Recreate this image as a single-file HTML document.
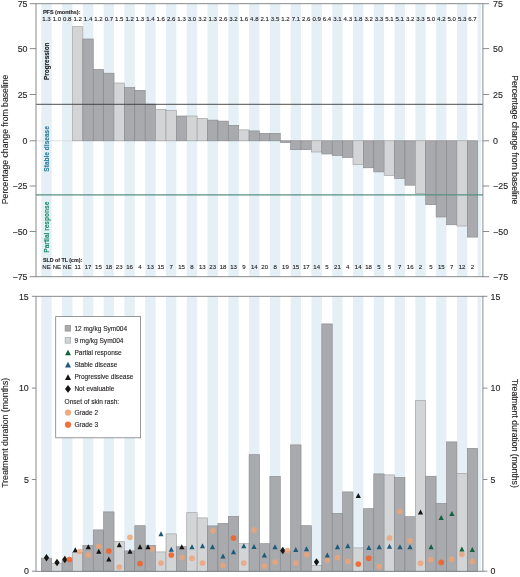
<!DOCTYPE html>
<html lang="en"><head><meta charset="utf-8"><title>Waterfall plot and treatment duration</title>
<style>html,body{margin:0;padding:0;background:#fff}svg{display:block}text{font-family:"Liberation Sans",Arial,Helvetica,sans-serif;fill:#231f20;stroke:#231f20;stroke-width:0.12px}</style></head><body>
<svg width="520" height="577" viewBox="0 0 520 577">
<rect width="520" height="577" fill="#fff"/>
<rect x="41.30" y="3.7" width="10.39" height="273.00" fill="#e4f0f5"/>
<rect x="62.08" y="3.7" width="10.39" height="273.00" fill="#e4f0f5"/>
<rect x="82.86" y="3.7" width="10.39" height="273.00" fill="#e4f0f5"/>
<rect x="103.64" y="3.7" width="10.39" height="273.00" fill="#e4f0f5"/>
<rect x="124.42" y="3.7" width="10.39" height="273.00" fill="#e4f0f5"/>
<rect x="145.20" y="3.7" width="10.39" height="273.00" fill="#e4f0f5"/>
<rect x="165.98" y="3.7" width="10.39" height="273.00" fill="#e4f0f5"/>
<rect x="186.76" y="3.7" width="10.39" height="273.00" fill="#e4f0f5"/>
<rect x="207.54" y="3.7" width="10.39" height="273.00" fill="#e4f0f5"/>
<rect x="228.32" y="3.7" width="10.39" height="273.00" fill="#e4f0f5"/>
<rect x="249.10" y="3.7" width="10.39" height="273.00" fill="#e4f0f5"/>
<rect x="269.88" y="3.7" width="10.39" height="273.00" fill="#e4f0f5"/>
<rect x="290.66" y="3.7" width="10.39" height="273.00" fill="#e4f0f5"/>
<rect x="311.44" y="3.7" width="10.39" height="273.00" fill="#e4f0f5"/>
<rect x="332.22" y="3.7" width="10.39" height="273.00" fill="#e4f0f5"/>
<rect x="353.00" y="3.7" width="10.39" height="273.00" fill="#e4f0f5"/>
<rect x="373.78" y="3.7" width="10.39" height="273.00" fill="#e4f0f5"/>
<rect x="394.56" y="3.7" width="10.39" height="273.00" fill="#e4f0f5"/>
<rect x="415.34" y="3.7" width="10.39" height="273.00" fill="#e4f0f5"/>
<rect x="436.12" y="3.7" width="10.39" height="273.00" fill="#e4f0f5"/>
<rect x="456.90" y="3.7" width="10.39" height="273.00" fill="#e4f0f5"/>
<rect x="477.68" y="3.7" width="3.22" height="273.00" fill="#e4f0f5"/>
<rect x="41.30" y="296.3" width="10.39" height="275.00" fill="#e4f0f5"/>
<rect x="62.08" y="296.3" width="10.39" height="275.00" fill="#e4f0f5"/>
<rect x="82.86" y="296.3" width="10.39" height="275.00" fill="#e4f0f5"/>
<rect x="103.64" y="296.3" width="10.39" height="275.00" fill="#e4f0f5"/>
<rect x="124.42" y="296.3" width="10.39" height="275.00" fill="#e4f0f5"/>
<rect x="145.20" y="296.3" width="10.39" height="275.00" fill="#e4f0f5"/>
<rect x="165.98" y="296.3" width="10.39" height="275.00" fill="#e4f0f5"/>
<rect x="186.76" y="296.3" width="10.39" height="275.00" fill="#e4f0f5"/>
<rect x="207.54" y="296.3" width="10.39" height="275.00" fill="#e4f0f5"/>
<rect x="228.32" y="296.3" width="10.39" height="275.00" fill="#e4f0f5"/>
<rect x="249.10" y="296.3" width="10.39" height="275.00" fill="#e4f0f5"/>
<rect x="269.88" y="296.3" width="10.39" height="275.00" fill="#e4f0f5"/>
<rect x="290.66" y="296.3" width="10.39" height="275.00" fill="#e4f0f5"/>
<rect x="311.44" y="296.3" width="10.39" height="275.00" fill="#e4f0f5"/>
<rect x="332.22" y="296.3" width="10.39" height="275.00" fill="#e4f0f5"/>
<rect x="353.00" y="296.3" width="10.39" height="275.00" fill="#e4f0f5"/>
<rect x="373.78" y="296.3" width="10.39" height="275.00" fill="#e4f0f5"/>
<rect x="394.56" y="296.3" width="10.39" height="275.00" fill="#e4f0f5"/>
<rect x="415.34" y="296.3" width="10.39" height="275.00" fill="#e4f0f5"/>
<rect x="436.12" y="296.3" width="10.39" height="275.00" fill="#e4f0f5"/>
<rect x="456.90" y="296.3" width="10.39" height="275.00" fill="#e4f0f5"/>
<rect x="477.68" y="296.3" width="3.22" height="275.00" fill="#e4f0f5"/>
<line x1="36.0" x2="482.9" y1="140.8" y2="140.8" stroke="#d6d6d6" stroke-width="0.7"/>
<rect x="72.47" y="26.70" width="10.39" height="114.10" fill="#d3d4d6" stroke="#9a9b9e" stroke-width="0.6"/>
<rect x="82.86" y="39.00" width="10.39" height="101.80" fill="#a9aaad" stroke="#85868a" stroke-width="0.6"/>
<rect x="93.25" y="69.40" width="10.39" height="71.40" fill="#a9aaad" stroke="#85868a" stroke-width="0.6"/>
<rect x="103.64" y="73.20" width="10.39" height="67.60" fill="#a9aaad" stroke="#85868a" stroke-width="0.6"/>
<rect x="114.03" y="83.00" width="10.39" height="57.80" fill="#d3d4d6" stroke="#9a9b9e" stroke-width="0.6"/>
<rect x="124.42" y="87.50" width="10.39" height="53.30" fill="#a9aaad" stroke="#85868a" stroke-width="0.6"/>
<rect x="134.81" y="90.30" width="10.39" height="50.50" fill="#a9aaad" stroke="#85868a" stroke-width="0.6"/>
<rect x="145.20" y="104.10" width="10.39" height="36.70" fill="#a9aaad" stroke="#85868a" stroke-width="0.6"/>
<rect x="155.59" y="109.40" width="10.39" height="31.40" fill="#d3d4d6" stroke="#9a9b9e" stroke-width="0.6"/>
<rect x="165.98" y="110.60" width="10.39" height="30.20" fill="#d3d4d6" stroke="#9a9b9e" stroke-width="0.6"/>
<rect x="176.37" y="116.00" width="10.39" height="24.80" fill="#a9aaad" stroke="#85868a" stroke-width="0.6"/>
<rect x="186.76" y="116.00" width="10.39" height="24.80" fill="#d3d4d6" stroke="#9a9b9e" stroke-width="0.6"/>
<rect x="197.15" y="118.30" width="10.39" height="22.50" fill="#d3d4d6" stroke="#9a9b9e" stroke-width="0.6"/>
<rect x="207.54" y="120.10" width="10.39" height="20.70" fill="#a9aaad" stroke="#85868a" stroke-width="0.6"/>
<rect x="217.93" y="121.10" width="10.39" height="19.70" fill="#a9aaad" stroke="#85868a" stroke-width="0.6"/>
<rect x="228.32" y="125.40" width="10.39" height="15.40" fill="#a9aaad" stroke="#85868a" stroke-width="0.6"/>
<rect x="238.71" y="129.85" width="10.39" height="10.95" fill="#d3d4d6" stroke="#9a9b9e" stroke-width="0.6"/>
<rect x="249.10" y="130.90" width="10.39" height="9.90" fill="#a9aaad" stroke="#85868a" stroke-width="0.6"/>
<rect x="259.49" y="133.30" width="10.39" height="7.50" fill="#a9aaad" stroke="#85868a" stroke-width="0.6"/>
<rect x="269.88" y="133.30" width="10.39" height="7.50" fill="#a9aaad" stroke="#85868a" stroke-width="0.6"/>
<rect x="280.27" y="140.80" width="10.39" height="1.80" fill="#a9aaad" stroke="#85868a" stroke-width="0.6"/>
<rect x="290.66" y="140.80" width="10.39" height="8.90" fill="#a9aaad" stroke="#85868a" stroke-width="0.6"/>
<rect x="301.05" y="140.80" width="10.39" height="8.90" fill="#a9aaad" stroke="#85868a" stroke-width="0.6"/>
<rect x="311.44" y="140.80" width="10.39" height="11.20" fill="#d3d4d6" stroke="#9a9b9e" stroke-width="0.6"/>
<rect x="321.83" y="140.80" width="10.39" height="13.20" fill="#a9aaad" stroke="#85868a" stroke-width="0.6"/>
<rect x="332.22" y="140.80" width="10.39" height="14.70" fill="#a9aaad" stroke="#85868a" stroke-width="0.6"/>
<rect x="342.61" y="140.80" width="10.39" height="16.70" fill="#a9aaad" stroke="#85868a" stroke-width="0.6"/>
<rect x="353.00" y="140.80" width="10.39" height="23.60" fill="#d3d4d6" stroke="#9a9b9e" stroke-width="0.6"/>
<rect x="363.39" y="140.80" width="10.39" height="27.00" fill="#a9aaad" stroke="#85868a" stroke-width="0.6"/>
<rect x="373.78" y="140.80" width="10.39" height="31.10" fill="#a9aaad" stroke="#85868a" stroke-width="0.6"/>
<rect x="384.17" y="140.80" width="10.39" height="34.60" fill="#d3d4d6" stroke="#9a9b9e" stroke-width="0.6"/>
<rect x="394.56" y="140.80" width="10.39" height="37.60" fill="#a9aaad" stroke="#85868a" stroke-width="0.6"/>
<rect x="404.95" y="140.80" width="10.39" height="44.40" fill="#a9aaad" stroke="#85868a" stroke-width="0.6"/>
<rect x="415.34" y="140.80" width="10.39" height="52.50" fill="#d3d4d6" stroke="#9a9b9e" stroke-width="0.6"/>
<rect x="425.73" y="140.80" width="10.39" height="63.90" fill="#a9aaad" stroke="#85868a" stroke-width="0.6"/>
<rect x="436.12" y="140.80" width="10.39" height="76.20" fill="#a9aaad" stroke="#85868a" stroke-width="0.6"/>
<rect x="446.51" y="140.80" width="10.39" height="84.00" fill="#a9aaad" stroke="#85868a" stroke-width="0.6"/>
<rect x="456.90" y="140.80" width="10.39" height="85.20" fill="#d3d4d6" stroke="#9a9b9e" stroke-width="0.6"/>
<rect x="467.29" y="140.80" width="10.39" height="96.30" fill="#a9aaad" stroke="#85868a" stroke-width="0.6"/>
<line x1="36.0" x2="482.9" y1="104.3" y2="104.3" stroke="#3a3a3a" stroke-width="0.9"/>
<line x1="36.0" x2="482.9" y1="194.9" y2="194.9" stroke="#57907f" stroke-width="1.1"/>
<rect x="41.30" y="558.20" width="10.39" height="13.10" fill="#a9aaad" stroke="#85868a" stroke-width="0.6"/>
<rect x="51.69" y="563.40" width="10.39" height="7.90" fill="#d3d4d6" stroke="#9a9b9e" stroke-width="0.6"/>
<rect x="62.08" y="560.40" width="10.39" height="10.90" fill="#a9aaad" stroke="#85868a" stroke-width="0.6"/>
<rect x="72.47" y="552.40" width="10.39" height="18.90" fill="#d3d4d6" stroke="#9a9b9e" stroke-width="0.6"/>
<rect x="82.86" y="545.40" width="10.39" height="25.90" fill="#a9aaad" stroke="#85868a" stroke-width="0.6"/>
<rect x="93.25" y="529.90" width="10.39" height="41.40" fill="#a9aaad" stroke="#85868a" stroke-width="0.6"/>
<rect x="103.64" y="511.90" width="10.39" height="59.40" fill="#a9aaad" stroke="#85868a" stroke-width="0.6"/>
<rect x="114.03" y="541.70" width="10.39" height="29.60" fill="#d3d4d6" stroke="#9a9b9e" stroke-width="0.6"/>
<rect x="124.42" y="550.90" width="10.39" height="20.40" fill="#a9aaad" stroke="#85868a" stroke-width="0.6"/>
<rect x="134.81" y="525.70" width="10.39" height="45.60" fill="#a9aaad" stroke="#85868a" stroke-width="0.6"/>
<rect x="145.20" y="545.40" width="10.39" height="25.90" fill="#a9aaad" stroke="#85868a" stroke-width="0.6"/>
<rect x="155.59" y="551.90" width="10.39" height="19.40" fill="#d3d4d6" stroke="#9a9b9e" stroke-width="0.6"/>
<rect x="165.98" y="533.90" width="10.39" height="37.40" fill="#d3d4d6" stroke="#9a9b9e" stroke-width="0.6"/>
<rect x="176.37" y="546.70" width="10.39" height="24.60" fill="#a9aaad" stroke="#85868a" stroke-width="0.6"/>
<rect x="186.76" y="512.70" width="10.39" height="58.60" fill="#d3d4d6" stroke="#9a9b9e" stroke-width="0.6"/>
<rect x="197.15" y="517.90" width="10.39" height="53.40" fill="#d3d4d6" stroke="#9a9b9e" stroke-width="0.6"/>
<rect x="207.54" y="525.90" width="10.39" height="45.40" fill="#a9aaad" stroke="#85868a" stroke-width="0.6"/>
<rect x="217.93" y="523.40" width="10.39" height="47.90" fill="#a9aaad" stroke="#85868a" stroke-width="0.6"/>
<rect x="228.32" y="516.40" width="10.39" height="54.90" fill="#a9aaad" stroke="#85868a" stroke-width="0.6"/>
<rect x="238.71" y="543.70" width="10.39" height="27.60" fill="#d3d4d6" stroke="#9a9b9e" stroke-width="0.6"/>
<rect x="249.10" y="454.70" width="10.39" height="116.60" fill="#a9aaad" stroke="#85868a" stroke-width="0.6"/>
<rect x="259.49" y="543.70" width="10.39" height="27.60" fill="#a9aaad" stroke="#85868a" stroke-width="0.6"/>
<rect x="269.88" y="476.40" width="10.39" height="94.90" fill="#a9aaad" stroke="#85868a" stroke-width="0.6"/>
<rect x="280.27" y="551.20" width="10.39" height="20.10" fill="#a9aaad" stroke="#85868a" stroke-width="0.6"/>
<rect x="290.66" y="444.90" width="10.39" height="126.40" fill="#a9aaad" stroke="#85868a" stroke-width="0.6"/>
<rect x="301.05" y="525.70" width="10.39" height="45.60" fill="#a9aaad" stroke="#85868a" stroke-width="0.6"/>
<rect x="311.44" y="565.40" width="10.39" height="5.90" fill="#d3d4d6" stroke="#9a9b9e" stroke-width="0.6"/>
<rect x="321.83" y="323.90" width="10.39" height="247.40" fill="#a9aaad" stroke="#85868a" stroke-width="0.6"/>
<rect x="332.22" y="513.40" width="10.39" height="57.90" fill="#a9aaad" stroke="#85868a" stroke-width="0.6"/>
<rect x="342.61" y="491.90" width="10.39" height="79.40" fill="#a9aaad" stroke="#85868a" stroke-width="0.6"/>
<rect x="353.00" y="547.90" width="10.39" height="23.40" fill="#d3d4d6" stroke="#9a9b9e" stroke-width="0.6"/>
<rect x="363.39" y="508.70" width="10.39" height="62.60" fill="#a9aaad" stroke="#85868a" stroke-width="0.6"/>
<rect x="373.78" y="473.90" width="10.39" height="97.40" fill="#a9aaad" stroke="#85868a" stroke-width="0.6"/>
<rect x="384.17" y="474.90" width="10.39" height="96.40" fill="#d3d4d6" stroke="#9a9b9e" stroke-width="0.6"/>
<rect x="394.56" y="477.40" width="10.39" height="93.90" fill="#a9aaad" stroke="#85868a" stroke-width="0.6"/>
<rect x="404.95" y="516.70" width="10.39" height="54.60" fill="#a9aaad" stroke="#85868a" stroke-width="0.6"/>
<rect x="415.34" y="400.70" width="10.39" height="170.60" fill="#d3d4d6" stroke="#9a9b9e" stroke-width="0.6"/>
<rect x="425.73" y="476.20" width="10.39" height="95.10" fill="#a9aaad" stroke="#85868a" stroke-width="0.6"/>
<rect x="436.12" y="503.40" width="10.39" height="67.90" fill="#a9aaad" stroke="#85868a" stroke-width="0.6"/>
<rect x="446.51" y="441.90" width="10.39" height="129.40" fill="#a9aaad" stroke="#85868a" stroke-width="0.6"/>
<rect x="456.90" y="473.40" width="10.39" height="97.90" fill="#d3d4d6" stroke="#9a9b9e" stroke-width="0.6"/>
<rect x="467.29" y="448.40" width="10.39" height="122.90" fill="#a9aaad" stroke="#85868a" stroke-width="0.6"/>
<polygon points="43.85,557.80 46.50,554.05 49.15,557.80 46.50,561.55" fill="#151515"/>
<polygon points="54.35,562.50 57.00,558.75 59.65,562.50 57.00,566.25" fill="#151515"/>
<polygon points="62.15,559.50 64.80,555.75 67.45,559.50 64.80,563.25" fill="#151515"/>
<circle cx="69.50" cy="559.50" r="2.85" fill="#f0652d" fill-opacity="0.92"/>
<polygon points="72.70,552.30 77.90,552.30 75.30,547.30" fill="#151515"/>
<circle cx="79.80" cy="551.50" r="2.85" fill="#eda477" fill-opacity="0.82"/>
<circle cx="88.30" cy="555.00" r="2.85" fill="#eda477" fill-opacity="0.82"/>
<polygon points="85.70,549.30 90.90,549.30 88.30,544.30" fill="#151515"/>
<circle cx="98.80" cy="546.50" r="2.85" fill="#eda477" fill-opacity="0.82"/>
<polygon points="96.20,553.80 101.40,553.80 98.80,548.80" fill="#151515"/>
<circle cx="108.80" cy="551.00" r="2.85" fill="#f0652d" fill-opacity="0.92"/>
<polygon points="106.20,561.50 111.40,561.50 108.80,556.50" fill="#151515"/>
<circle cx="119.30" cy="567.00" r="2.85" fill="#eda477" fill-opacity="0.82"/>
<polygon points="116.70,547.30 121.90,547.30 119.30,542.30" fill="#151515"/>
<circle cx="130.00" cy="537.30" r="2.85" fill="#eda477" fill-opacity="0.82"/>
<polygon points="127.40,553.80 132.60,553.80 130.00,548.80" fill="#151515"/>
<circle cx="140.00" cy="563.50" r="2.85" fill="#f0652d" fill-opacity="0.92"/>
<polygon points="137.40,549.30 142.60,549.30 140.00,544.30" fill="#151515"/>
<circle cx="152.00" cy="548.80" r="2.85" fill="#eda477" fill-opacity="0.82"/>
<polygon points="145.40,549.30 150.60,549.30 148.00,544.30" fill="#151515"/>
<circle cx="161.00" cy="563.00" r="2.85" fill="#eda477" fill-opacity="0.82"/>
<polygon points="158.40,536.30 163.60,536.30 161.00,531.30" fill="#1c5c7a"/>
<circle cx="171.30" cy="555.00" r="2.85" fill="#f0652d" fill-opacity="0.92"/>
<polygon points="168.70,551.80 173.90,551.80 171.30,546.80" fill="#1c5c7a"/>
<circle cx="181.80" cy="557.50" r="2.85" fill="#eda477" fill-opacity="0.82"/>
<polygon points="179.20,549.30 184.40,549.30 181.80,544.30" fill="#151515"/>
<circle cx="192.00" cy="558.30" r="2.85" fill="#eda477" fill-opacity="0.82"/>
<polygon points="189.40,549.30 194.60,549.30 192.00,544.30" fill="#1c5c7a"/>
<circle cx="202.50" cy="563.00" r="2.85" fill="#eda477" fill-opacity="0.82"/>
<polygon points="199.90,548.30 205.10,548.30 202.50,543.30" fill="#1c5c7a"/>
<circle cx="213.00" cy="530.80" r="2.85" fill="#eda477" fill-opacity="0.82"/>
<polygon points="209.90,549.30 215.10,549.30 212.50,544.30" fill="#1c5c7a"/>
<circle cx="223.00" cy="565.50" r="2.85" fill="#eda477" fill-opacity="0.82"/>
<polygon points="220.40,558.50 225.60,558.50 223.00,553.50" fill="#1c5c7a"/>
<circle cx="233.50" cy="538.00" r="2.85" fill="#f0652d" fill-opacity="0.92"/>
<polygon points="230.90,554.30 236.10,554.30 233.50,549.30" fill="#1c5c7a"/>
<circle cx="243.80" cy="563.00" r="2.85" fill="#eda477" fill-opacity="0.82"/>
<polygon points="241.20,548.30 246.40,548.30 243.80,543.30" fill="#1c5c7a"/>
<circle cx="254.00" cy="530.00" r="2.85" fill="#eda477" fill-opacity="0.82"/>
<polygon points="251.40,549.10 256.60,549.10 254.00,544.10" fill="#1c5c7a"/>
<circle cx="264.40" cy="566.00" r="2.85" fill="#eda477" fill-opacity="0.82"/>
<polygon points="261.80,557.50 267.00,557.50 264.40,552.50" fill="#1c5c7a"/>
<circle cx="275.00" cy="562.00" r="2.85" fill="#eda477" fill-opacity="0.82"/>
<polygon points="272.40,549.30 277.60,549.30 275.00,544.30" fill="#1c5c7a"/>
<polygon points="280.15,550.50 282.80,546.75 285.45,550.50 282.80,554.25" fill="#151515"/>
<circle cx="287.50" cy="550.50" r="2.85" fill="#eda477" fill-opacity="0.82"/>
<circle cx="295.80" cy="563.00" r="2.85" fill="#eda477" fill-opacity="0.82"/>
<polygon points="293.20,552.00 298.40,552.00 295.80,547.00" fill="#1c5c7a"/>
<circle cx="306.50" cy="554.50" r="2.85" fill="#eda477" fill-opacity="0.82"/>
<polygon points="303.90,551.30 309.10,551.30 306.50,546.30" fill="#1c5c7a"/>
<polygon points="313.85,562.00 316.50,558.25 319.15,562.00 316.50,565.75" fill="#151515"/>
<circle cx="327.30" cy="560.00" r="2.85" fill="#eda477" fill-opacity="0.82"/>
<polygon points="324.70,557.50 329.90,557.50 327.30,552.50" fill="#1c5c7a"/>
<circle cx="337.50" cy="557.50" r="2.85" fill="#eda477" fill-opacity="0.82"/>
<polygon points="334.90,549.30 340.10,549.30 337.50,544.30" fill="#1c5c7a"/>
<circle cx="347.80" cy="561.30" r="2.85" fill="#eda477" fill-opacity="0.82"/>
<polygon points="345.20,548.30 350.40,548.30 347.80,543.30" fill="#1c5c7a"/>
<circle cx="358.30" cy="564.00" r="2.85" fill="#f0652d" fill-opacity="0.92"/>
<polygon points="355.70,498.00 360.90,498.00 358.30,493.00" fill="#151515"/>
<circle cx="368.80" cy="558.30" r="2.85" fill="#f0652d" fill-opacity="0.92"/>
<polygon points="366.20,550.00 371.40,550.00 368.80,545.00" fill="#1c5c7a"/>
<circle cx="379.20" cy="566.50" r="2.85" fill="#eda477" fill-opacity="0.82"/>
<polygon points="376.60,549.30 381.80,549.30 379.20,544.30" fill="#1c5c7a"/>
<circle cx="389.50" cy="538.00" r="2.85" fill="#eda477" fill-opacity="0.82"/>
<polygon points="386.90,548.80 392.10,548.80 389.50,543.80" fill="#1c5c7a"/>
<circle cx="399.60" cy="511.30" r="2.85" fill="#eda477" fill-opacity="0.82"/>
<polygon points="397.40,549.30 402.60,549.30 400.00,544.30" fill="#1c5c7a"/>
<circle cx="410.00" cy="540.80" r="2.85" fill="#eda477" fill-opacity="0.82"/>
<polygon points="407.40,549.30 412.60,549.30 410.00,544.30" fill="#1c5c7a"/>
<circle cx="420.50" cy="563.30" r="2.85" fill="#eda477" fill-opacity="0.82"/>
<polygon points="417.90,514.50 423.10,514.50 420.50,509.50" fill="#151515"/>
<circle cx="430.60" cy="559.60" r="2.85" fill="#eda477" fill-opacity="0.82"/>
<polygon points="428.50,549.30 433.70,549.30 431.10,544.30" fill="#14603f"/>
<circle cx="441.20" cy="562.40" r="2.85" fill="#f0652d" fill-opacity="0.92"/>
<polygon points="438.60,520.10 443.80,520.10 441.20,515.10" fill="#14603f"/>
<circle cx="451.60" cy="559.20" r="2.85" fill="#eda477" fill-opacity="0.82"/>
<polygon points="449.30,516.00 454.50,516.00 451.90,511.00" fill="#14603f"/>
<circle cx="461.90" cy="554.30" r="2.85" fill="#eda477" fill-opacity="0.82"/>
<polygon points="459.30,551.40 464.50,551.40 461.90,546.40" fill="#14603f"/>
<circle cx="472.30" cy="561.60" r="2.85" fill="#eda477" fill-opacity="0.82"/>
<polygon points="469.70,552.00 474.90,552.00 472.30,547.00" fill="#14603f"/>
<rect x="36.0" y="3.7" width="446.90" height="273.00" fill="none" stroke="#7d7e80" stroke-width="0.9"/>
<rect x="36.0" y="296.3" width="446.90" height="275.00" fill="none" stroke="#7d7e80" stroke-width="0.9"/>
<line x1="29.7" x2="36.0" y1="3.70" y2="3.70" stroke="#7d7e80" stroke-width="0.9"/>
<line x1="482.9" x2="489.2" y1="3.70" y2="3.70" stroke="#7d7e80" stroke-width="0.9"/>
<text x="27.5" y="6.90" font-size="8.85" text-anchor="end">75</text>
<text x="493.1" y="6.90" font-size="8.85">75</text>
<line x1="29.7" x2="36.0" y1="48.60" y2="48.60" stroke="#7d7e80" stroke-width="0.9"/>
<line x1="482.9" x2="489.2" y1="48.60" y2="48.60" stroke="#7d7e80" stroke-width="0.9"/>
<text x="27.5" y="51.80" font-size="8.85" text-anchor="end">50</text>
<text x="493.1" y="51.80" font-size="8.85">50</text>
<line x1="29.7" x2="36.0" y1="94.50" y2="94.50" stroke="#7d7e80" stroke-width="0.9"/>
<line x1="482.9" x2="489.2" y1="94.50" y2="94.50" stroke="#7d7e80" stroke-width="0.9"/>
<text x="27.5" y="97.70" font-size="8.85" text-anchor="end">25</text>
<text x="493.1" y="97.70" font-size="8.85">25</text>
<line x1="29.7" x2="36.0" y1="140.80" y2="140.80" stroke="#7d7e80" stroke-width="0.9"/>
<line x1="482.9" x2="489.2" y1="140.80" y2="140.80" stroke="#7d7e80" stroke-width="0.9"/>
<text x="27.5" y="144.00" font-size="8.85" text-anchor="end">0</text>
<text x="493.1" y="144.00" font-size="8.85">0</text>
<line x1="29.7" x2="36.0" y1="186.00" y2="186.00" stroke="#7d7e80" stroke-width="0.9"/>
<line x1="482.9" x2="489.2" y1="186.00" y2="186.00" stroke="#7d7e80" stroke-width="0.9"/>
<text x="27.5" y="189.20" font-size="8.85" text-anchor="end">−25</text>
<text x="493.1" y="189.20" font-size="8.85">−25</text>
<line x1="29.7" x2="36.0" y1="231.50" y2="231.50" stroke="#7d7e80" stroke-width="0.9"/>
<line x1="482.9" x2="489.2" y1="231.50" y2="231.50" stroke="#7d7e80" stroke-width="0.9"/>
<text x="27.5" y="234.70" font-size="8.85" text-anchor="end">−50</text>
<text x="493.1" y="234.70" font-size="8.85">−50</text>
<line x1="29.7" x2="36.0" y1="276.70" y2="276.70" stroke="#7d7e80" stroke-width="0.9"/>
<line x1="482.9" x2="489.2" y1="276.70" y2="276.70" stroke="#7d7e80" stroke-width="0.9"/>
<text x="27.5" y="279.90" font-size="8.85" text-anchor="end">−75</text>
<text x="493.1" y="279.90" font-size="8.85">−75</text>
<line x1="31.9" x2="36.0" y1="296.30" y2="296.30" stroke="#7d7e80" stroke-width="0.9"/>
<line x1="482.9" x2="487.4" y1="296.30" y2="296.30" stroke="#7d7e80" stroke-width="0.9"/>
<text x="28.8" y="299.50" font-size="8.85" text-anchor="end">15</text>
<text x="490.6" y="299.50" font-size="8.85">15</text>
<line x1="31.9" x2="36.0" y1="388.10" y2="388.10" stroke="#7d7e80" stroke-width="0.9"/>
<line x1="482.9" x2="487.4" y1="388.10" y2="388.10" stroke="#7d7e80" stroke-width="0.9"/>
<text x="28.8" y="391.30" font-size="8.85" text-anchor="end">10</text>
<text x="490.6" y="391.30" font-size="8.85">10</text>
<line x1="31.9" x2="36.0" y1="479.50" y2="479.50" stroke="#7d7e80" stroke-width="0.9"/>
<line x1="482.9" x2="487.4" y1="479.50" y2="479.50" stroke="#7d7e80" stroke-width="0.9"/>
<text x="28.8" y="482.70" font-size="8.85" text-anchor="end">5</text>
<text x="490.6" y="482.70" font-size="8.85">5</text>
<line x1="31.9" x2="36.0" y1="571.20" y2="571.20" stroke="#7d7e80" stroke-width="0.9"/>
<line x1="482.9" x2="487.4" y1="571.20" y2="571.20" stroke="#7d7e80" stroke-width="0.9"/>
<text x="28.8" y="574.40" font-size="8.85" text-anchor="end">0</text>
<text x="490.6" y="574.40" font-size="8.85">0</text>
<text transform="translate(7.95,139.4) rotate(-90)" font-size="8.7" text-anchor="middle" textLength="129.6" lengthAdjust="spacingAndGlyphs">Percentage change from baseline</text>
<text transform="translate(512.1,139.8) rotate(90)" font-size="8.7" text-anchor="middle" textLength="129.2" lengthAdjust="spacingAndGlyphs">Percentage change from baseline</text>
<text transform="translate(7.95,432.8) rotate(-90)" font-size="8.7" text-anchor="middle" textLength="110" lengthAdjust="spacingAndGlyphs">Treatment duration (months)</text>
<text transform="translate(512.1,433.3) rotate(90)" font-size="8.7" text-anchor="middle" textLength="109" lengthAdjust="spacingAndGlyphs">Treatment duration (months)</text>
<text transform="translate(48.8,61.3) rotate(-90)" font-size="6.55" font-weight="bold" text-anchor="middle" textLength="37.6" lengthAdjust="spacingAndGlyphs" style="fill:#1a1a1a;stroke:#1a1a1a">Progression</text>
<text transform="translate(48.8,148.9) rotate(-90)" font-size="6.55" font-weight="bold" text-anchor="middle" style="fill:#2c7c9c;stroke:#2c7c9c">Stable disease</text>
<text transform="translate(48.8,227.2) rotate(-90)" font-size="6.55" font-weight="bold" text-anchor="middle" style="fill:#1f8c68;stroke:#1f8c68">Partial response</text>
<text x="42.9" y="13.8" font-size="5.5" font-weight="bold">PFS (months):</text>
<text x="42.9" y="262.2" font-size="5.3" font-weight="bold">SLD of TL (cm):</text>
<text x="46.49" y="21.3" font-size="6.05" text-anchor="middle">1.3</text>
<text x="46.49" y="269.1" font-size="6.05" text-anchor="middle">NE</text>
<text x="56.88" y="21.3" font-size="6.05" text-anchor="middle">1.0</text>
<text x="56.88" y="269.1" font-size="6.05" text-anchor="middle">NE</text>
<text x="67.28" y="21.3" font-size="6.05" text-anchor="middle">0.8</text>
<text x="67.28" y="269.1" font-size="6.05" text-anchor="middle">NE</text>
<text x="77.66" y="21.3" font-size="6.05" text-anchor="middle">1.2</text>
<text x="77.66" y="269.1" font-size="6.05" text-anchor="middle">11</text>
<text x="88.06" y="21.3" font-size="6.05" text-anchor="middle">1.4</text>
<text x="88.06" y="269.1" font-size="6.05" text-anchor="middle">17</text>
<text x="98.44" y="21.3" font-size="6.05" text-anchor="middle">1.2</text>
<text x="98.44" y="269.1" font-size="6.05" text-anchor="middle">15</text>
<text x="108.83" y="21.3" font-size="6.05" text-anchor="middle">0.7</text>
<text x="108.83" y="269.1" font-size="6.05" text-anchor="middle">18</text>
<text x="119.23" y="21.3" font-size="6.05" text-anchor="middle">1.5</text>
<text x="119.23" y="269.1" font-size="6.05" text-anchor="middle">23</text>
<text x="129.62" y="21.3" font-size="6.05" text-anchor="middle">1.2</text>
<text x="129.62" y="269.1" font-size="6.05" text-anchor="middle">16</text>
<text x="140.00" y="21.3" font-size="6.05" text-anchor="middle">1.3</text>
<text x="140.00" y="269.1" font-size="6.05" text-anchor="middle">4</text>
<text x="150.39" y="21.3" font-size="6.05" text-anchor="middle">1.4</text>
<text x="150.39" y="269.1" font-size="6.05" text-anchor="middle">13</text>
<text x="160.79" y="21.3" font-size="6.05" text-anchor="middle">1.6</text>
<text x="160.79" y="269.1" font-size="6.05" text-anchor="middle">15</text>
<text x="171.18" y="21.3" font-size="6.05" text-anchor="middle">2.6</text>
<text x="171.18" y="269.1" font-size="6.05" text-anchor="middle">7</text>
<text x="181.56" y="21.3" font-size="6.05" text-anchor="middle">1.3</text>
<text x="181.56" y="269.1" font-size="6.05" text-anchor="middle">15</text>
<text x="191.95" y="21.3" font-size="6.05" text-anchor="middle">3.0</text>
<text x="191.95" y="269.1" font-size="6.05" text-anchor="middle">8</text>
<text x="202.35" y="21.3" font-size="6.05" text-anchor="middle">3.2</text>
<text x="202.35" y="269.1" font-size="6.05" text-anchor="middle">13</text>
<text x="212.74" y="21.3" font-size="6.05" text-anchor="middle">1.3</text>
<text x="212.74" y="269.1" font-size="6.05" text-anchor="middle">23</text>
<text x="223.12" y="21.3" font-size="6.05" text-anchor="middle">2.6</text>
<text x="223.12" y="269.1" font-size="6.05" text-anchor="middle">18</text>
<text x="233.51" y="21.3" font-size="6.05" text-anchor="middle">3.2</text>
<text x="233.51" y="269.1" font-size="6.05" text-anchor="middle">13</text>
<text x="243.91" y="21.3" font-size="6.05" text-anchor="middle">1.6</text>
<text x="243.91" y="269.1" font-size="6.05" text-anchor="middle">9</text>
<text x="254.30" y="21.3" font-size="6.05" text-anchor="middle">4.8</text>
<text x="254.30" y="269.1" font-size="6.05" text-anchor="middle">14</text>
<text x="264.69" y="21.3" font-size="6.05" text-anchor="middle">2.1</text>
<text x="264.69" y="269.1" font-size="6.05" text-anchor="middle">20</text>
<text x="275.07" y="21.3" font-size="6.05" text-anchor="middle">3.5</text>
<text x="275.07" y="269.1" font-size="6.05" text-anchor="middle">8</text>
<text x="285.47" y="21.3" font-size="6.05" text-anchor="middle">1.2</text>
<text x="285.47" y="269.1" font-size="6.05" text-anchor="middle">19</text>
<text x="295.86" y="21.3" font-size="6.05" text-anchor="middle">7.1</text>
<text x="295.86" y="269.1" font-size="6.05" text-anchor="middle">15</text>
<text x="306.25" y="21.3" font-size="6.05" text-anchor="middle">2.6</text>
<text x="306.25" y="269.1" font-size="6.05" text-anchor="middle">17</text>
<text x="316.64" y="21.3" font-size="6.05" text-anchor="middle">0.9</text>
<text x="316.64" y="269.1" font-size="6.05" text-anchor="middle">14</text>
<text x="327.03" y="21.3" font-size="6.05" text-anchor="middle">6.4</text>
<text x="327.03" y="269.1" font-size="6.05" text-anchor="middle">5</text>
<text x="337.42" y="21.3" font-size="6.05" text-anchor="middle">3.1</text>
<text x="337.42" y="269.1" font-size="6.05" text-anchor="middle">21</text>
<text x="347.81" y="21.3" font-size="6.05" text-anchor="middle">4.3</text>
<text x="347.81" y="269.1" font-size="6.05" text-anchor="middle">4</text>
<text x="358.20" y="21.3" font-size="6.05" text-anchor="middle">1.8</text>
<text x="358.20" y="269.1" font-size="6.05" text-anchor="middle">14</text>
<text x="368.59" y="21.3" font-size="6.05" text-anchor="middle">3.2</text>
<text x="368.59" y="269.1" font-size="6.05" text-anchor="middle">18</text>
<text x="378.98" y="21.3" font-size="6.05" text-anchor="middle">3.3</text>
<text x="378.98" y="269.1" font-size="6.05" text-anchor="middle">5</text>
<text x="389.37" y="21.3" font-size="6.05" text-anchor="middle">5.1</text>
<text x="389.37" y="269.1" font-size="6.05" text-anchor="middle">5</text>
<text x="399.76" y="21.3" font-size="6.05" text-anchor="middle">5.1</text>
<text x="399.76" y="269.1" font-size="6.05" text-anchor="middle">7</text>
<text x="410.15" y="21.3" font-size="6.05" text-anchor="middle">3.2</text>
<text x="410.15" y="269.1" font-size="6.05" text-anchor="middle">16</text>
<text x="420.54" y="21.3" font-size="6.05" text-anchor="middle">3.3</text>
<text x="420.54" y="269.1" font-size="6.05" text-anchor="middle">2</text>
<text x="430.93" y="21.3" font-size="6.05" text-anchor="middle">5.0</text>
<text x="430.93" y="269.1" font-size="6.05" text-anchor="middle">5</text>
<text x="441.32" y="21.3" font-size="6.05" text-anchor="middle">4.2</text>
<text x="441.32" y="269.1" font-size="6.05" text-anchor="middle">15</text>
<text x="451.71" y="21.3" font-size="6.05" text-anchor="middle">5.0</text>
<text x="451.71" y="269.1" font-size="6.05" text-anchor="middle">7</text>
<text x="462.10" y="21.3" font-size="6.05" text-anchor="middle">5.3</text>
<text x="462.10" y="269.1" font-size="6.05" text-anchor="middle">12</text>
<text x="472.49" y="21.3" font-size="6.05" text-anchor="middle">6.7</text>
<text x="472.49" y="269.1" font-size="6.05" text-anchor="middle">2</text>
<rect x="55.7" y="316.6" width="84.9" height="121.2" fill="#fff" stroke="#7d7e80" stroke-width="0.8"/>
<rect x="65.1" y="325.5" width="5.6" height="5.6" fill="#a9aaad" stroke="#85868a" stroke-width="0.6"/>
<rect x="65.1" y="337.55" width="5.6" height="5.6" fill="#d3d4d6" stroke="#9a9b9e" stroke-width="0.6"/>
<polygon points="65.00,355.35 71.00,355.35 68.00,349.65" fill="#14603f"/>
<polygon points="65.00,367.55 71.00,367.55 68.00,361.85" fill="#1c5c7a"/>
<polygon points="65.00,379.95 71.00,379.95 68.00,374.25" fill="#151515"/>
<polygon points="65.00,388.90 68.00,384.95 71.00,388.90 68.00,392.85" fill="#151515"/>
<circle cx="68.00" cy="412.60" r="3.1" fill="#eda477" fill-opacity="0.95"/>
<circle cx="68.00" cy="424.70" r="3.1" fill="#f0652d" fill-opacity="0.92"/>
<text x="74.4" y="330.65" font-size="6.55">12 mg/kg Sym004</text>
<text x="74.4" y="342.70" font-size="6.55">9 mg/kg Sym004</text>
<text x="74.4" y="354.85" font-size="6.55">Partial response</text>
<text x="74.4" y="367.05" font-size="6.55">Stable disease</text>
<text x="74.4" y="379.45" font-size="6.55">Progressive disease</text>
<text x="74.4" y="391.25" font-size="6.55">Not evaluable</text>
<text x="74.4" y="414.95" font-size="6.55">Grade 2</text>
<text x="74.4" y="427.05" font-size="6.55">Grade 3</text>
<text x="64.6" y="403.55" font-size="6.55">Onset of skin rash:</text>
</svg></body></html>
